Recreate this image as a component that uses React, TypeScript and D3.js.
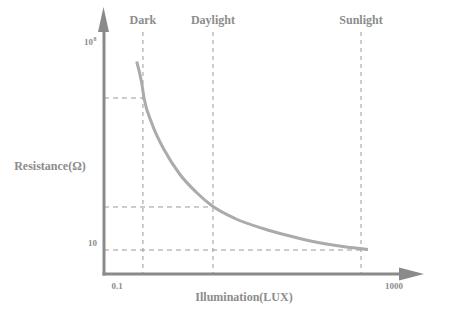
import React from "react";
import * as d3 from "d3";

// Illumination (lux) vs resistance (ohm) curve points
const luxValues = [0.1925, 0.2274, 0.2454, 0.317, 0.482, 0.812, 1.383, 2.378, 5.06, 12.83, 31.5, 67.7, 183.4, 421];
const resistanceValues = [2.06e7, 3.92e6, 1.26e6, 1.79e5, 2.23e4, 3375, 876, 297, 113.5, 52.5, 29.4, 19.3, 13.1, 10.4];

// Reference conditions
const markerLabels = ["Dark", "Daylight", "Sunlight"];
const markerLux = [0.237, 2.43, 334];
const markerResistance = [1.23e6, 276, 10];

// Axis ticks
const xTicks = [0.1, 1000];
const xTickLabels = ["0.1", "1000"];
const yTickValues = [10, 1e8];

const W = 458;
const H = 314;
const originX = 104;
const originY = 274;

const AXIS = "#8a8a8a";
const TEXT = "#8c8c8c";
const CURVE = "#ababab";
const DASH = "#9a9a9a";
const FONT = "'Liberation Serif', 'DejaVu Serif', serif";

export default function App() {
  const x = d3.scaleLog().domain([0.1, 1000]).range([117, 394]);
  const y = d3.scaleLog().domain([10, 1e8]).range([250, 41]);

  const pts: [number, number][] = luxValues.map((l, i) => [l, resistanceValues[i]]);
  const line = d3
    .line<[number, number]>()
    .x((d) => x(d[0]))
    .y((d) => y(d[1]))
    .curve(d3.curveMonotoneX);

  const lastX = x(luxValues[luxValues.length - 1]);

  return (
    <svg
      width={W}
      height={H}
      viewBox={`0 0 ${W} ${H}`}
      style={{ position: "absolute", left: 0, top: 0, background: "#fff" }}
    >
      {/* vertical dashed marker lines */}
      {markerLux.map((l, i) => (
        <line
          key={"v" + i}
          x1={x(l)}
          x2={x(l)}
          y1={32}
          y2={originY}
          stroke={DASH}
          strokeWidth={1}
          strokeDasharray="4,4"
        />
      ))}
      {/* horizontal dashed marker lines */}
      {markerResistance.map((r, i) => (
        <line
          key={"h" + i}
          x1={originX}
          x2={i === markerResistance.length - 1 ? lastX : x(markerLux[i])}
          y1={y(r)}
          y2={y(r)}
          stroke={DASH}
          strokeWidth={1}
          strokeDasharray="5,4"
        />
      ))}
      {/* marker labels */}
      {markerLabels.map((t, i) => (
        <text
          key={"m" + i}
          x={x(markerLux[i])}
          y={24}
          textAnchor="middle"
          fontFamily={FONT}
          fontWeight="bold"
          fontSize={12}
          fill={TEXT}
        >
          {t}
        </text>
      ))}

      {/* curve */}
      <path d={line(pts) || ""} fill="none" stroke={CURVE} strokeWidth={3} strokeLinecap="butt" />

      {/* axes */}
      <line x1={originX} x2={originX} y1={originY + 1.5} y2={28} stroke={AXIS} strokeWidth={3} />
      <line x1={originX - 1.5} x2={402} y1={originY} y2={originY} stroke={AXIS} strokeWidth={3} />
      <path d={`M${originX - 0.5},7 L${originX + 5},32 L${originX - 6},32 Z`} fill={AXIS} />
      <path d={`M424,${originY} L399,${originY - 6.5} L399,${originY + 6.5} Z`} fill={AXIS} />

      {/* y tick labels */}
      <text x={97} y={y(yTickValues[0]) - 4} textAnchor="end" fontFamily={FONT} fontWeight="bold" fontSize={9} fill={TEXT}>
        10
      </text>
      <text x={93} y={y(yTickValues[1]) + 4} textAnchor="end" fontFamily={FONT} fontWeight="bold" fontSize={9} fill={TEXT}>
        10
      </text>
      <text x={93.5} y={y(yTickValues[1])} textAnchor="start" fontFamily={FONT} fontWeight="bold" fontSize={6} fill={TEXT}>
        8
      </text>

      {/* x tick labels */}
      {xTicks.map((v, i) => (
        <text
          key={"xt" + i}
          x={x(v)}
          y={289}
          textAnchor="middle"
          fontFamily={FONT}
          fontWeight="bold"
          fontSize={9}
          fill={TEXT}
        >
          {xTickLabels[i]}
        </text>
      ))}

      {/* axis titles */}
      <text x={244} y={301} textAnchor="middle" fontFamily={FONT} fontWeight="bold" fontSize={12} fill={TEXT}>
        Illumination(LUX)
      </text>
      <text x={50} y={170} textAnchor="middle" fontFamily={FONT} fontWeight="bold" fontSize={12} fill={TEXT}>
        Resistance(Ω)
      </text>
    </svg>
  );
}
